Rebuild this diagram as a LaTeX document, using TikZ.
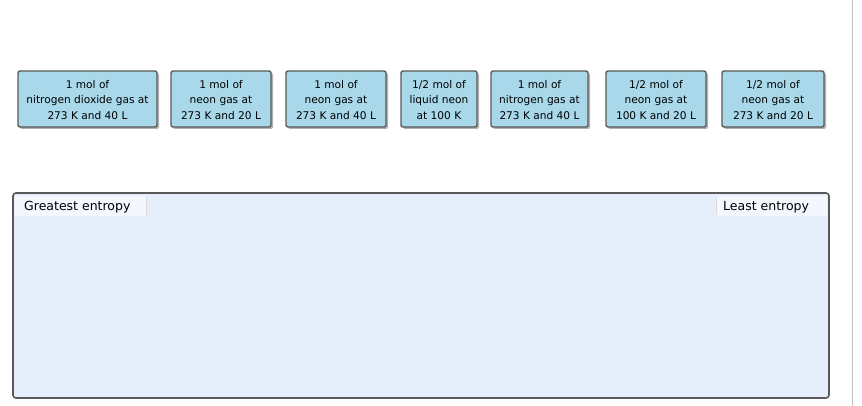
\documentclass[tikz,border=0pt]{standalone}
\usepackage{fontspec}
\setmainfont{DejaVu Sans}
\begin{document}
\begin{tikzpicture}[x=1pt,y=-1pt,
  cardtxt/.style={align=center,font=\fontsize{10.6}{15.3}\selectfont,inner sep=0pt},
  tabtxt/.style={inner sep=0pt,font=\fontsize{12.5}{14}\selectfont,anchor=west}]
\definecolor{cardc}{HTML}{A8D8EA}
\definecolor{panelc}{HTML}{E6EEFC}
\useasboundingbox (0,0) rectangle (862,406);
\fill[white] (0,0) rectangle (862,406);
\draw[black!25] (852,0) -- (852,406);
\foreach \n/\a/\b/\t in {c1/18/157/{1 mol of\\nitrogen dioxide gas at\\273 K and 40 L},
  c2/171/271/{1 mol of\\neon gas at\\273 K and 20 L},
  c3/286/386/{1 mol of\\neon gas at\\273 K and 40 L},
  c4/401/477/{1/2 mol of\\liquid neon\\at 100 K},
  c5/491/588/{1 mol of\\nitrogen gas at\\273 K and 40 L},
  c6/606/706/{1/2 mol of\\neon gas at\\100 K and 20 L},
  c7/722/824/{1/2 mol of\\neon gas at\\273 K and 20 L}}{
  \fill[black!30,rounded corners=2pt] (\a+2,73) rectangle (\b+2,129);
  \draw[draw=black!65,line width=1.4pt,fill=cardc,rounded corners=2pt] (\a,71) rectangle (\b,127);
  \node[cardtxt] (\n) at ({(\a+\b)/2},100) {\t};
}
\draw[black!65,line width=1.6pt,fill=panelc,rounded corners=3pt] (13,193) rectangle (829,398);
\fill[white!55!panelc] (15,196) rectangle (146,216);
\draw[black!15,line width=1pt] (146,197) -- (146,215);
\node[tabtxt] (ge) at (24,207) {Greatest entropy};
\fill[white!55!panelc] (716,196) rectangle (827,216);
\draw[black!15,line width=1pt] (716,197) -- (716,215);
\node[tabtxt] (le) at (723,207) {Least entropy};
\end{tikzpicture}
\end{document}
